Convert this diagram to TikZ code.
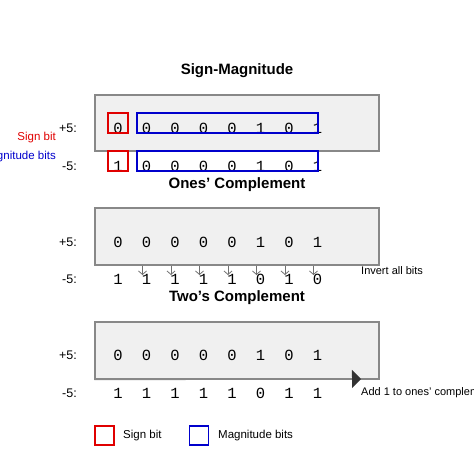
\documentclass[tikz,border=0pt]{standalone}
\usepackage{fontspec}
\setmainfont{Liberation Sans}
\setmonofont{Liberation Mono}
\usetikzlibrary{arrows.meta}
\definecolor{panelfill}{HTML}{F0F0F0}
\definecolor{paneldraw}{HTML}{888888}
\definecolor{signred}{HTML}{E00000}
\definecolor{magblue}{HTML}{0000CC}
\definecolor{tipdark}{HTML}{333333}
\definecolor{arrowgray}{HTML}{707070}

\begin{document}
\begin{tikzpicture}[x=1pt, y=-1pt,
    panel/.style={
      draw=paneldraw, fill=panelfill, line width=1.2pt,
      minimum width=284pt, minimum height=57pt, inner sep=0pt
    },
    heading/.style={inner sep=0pt, font=\fontsize{15}{18}\selectfont\bfseries},
    rowlabel/.style={anchor=east, inner sep=0pt, font=\fontsize{12.5}{14}\selectfont},
    bit/.style={inner sep=0pt, font=\ttfamily\fontsize{15.5}{18}\selectfont},
    note/.style={anchor=west, inner sep=0pt, font=\fontsize{11}{13}\selectfont},
    legtext/.style={anchor=west, inner sep=0pt, font=\fontsize{11.5}{13}\selectfont},
    signbox/.style={draw=signred, line width=1.5pt, minimum size=20pt, inner sep=0pt},
    magbox/.style={
      draw=magblue, line width=1.5pt,
      minimum width=181pt, minimum height=20pt, inner sep=0pt
    },
    invert/.style={draw=arrowgray, line width=0.8pt, -{Straight Barb[length=3.5pt,width=8pt]}},
  ]
  \useasboundingbox (0,0) rectangle (474,474);

  % Sign-Magnitude
  \node[heading] (smtitle) at (237,71) {Sign-Magnitude};
  \node[panel, minimum height=56pt] (smbox) at (237,123) {};
  \node[rowlabel] (smplus) at (77,128) {+5:};
  \node[rowlabel] (smminus) at (77,166) {-5:};
  \foreach \b [count=\i] in {0,0,0,0,0,1,0,1}
    \node[bit] (smp\i) at ({118+28.5*(\i-1)},128) {\b};
  \foreach \b [count=\i] in {1,0,0,0,0,1,0,1}
    \node[bit] (smn\i) at ({118+28.5*(\i-1)},166) {\b};
  \node[signbox] (smpsign) at (118,123) {};
  \node[magbox] (smpmag) at (227.5,123) {};
  \node[signbox] (smnsign) at (118,161) {};
  \node[magbox] (smnmag) at (227.5,161) {};
  \node[anchor=east, inner sep=0pt, text=signred, font=\fontsize{11.5}{13}\selectfont]
    (smsignlab) at (56,138) {Sign bit};
  \node[anchor=east, inner sep=0pt, text=magblue, font=\fontsize{11.5}{13}\selectfont]
    (smmaglab) at (56,157) {Magnitude bits};

  % Ones' Complement
  \node[heading] (octitle) at (237,185) {Ones' Complement};
  \node[panel] (ocbox) at (237,236.5) {};
  \node[rowlabel] (ocplus) at (77,242) {+5:};
  \node[rowlabel] (ocminus) at (77,279) {-5:};
  \foreach \b [count=\i] in {0,0,0,0,0,1,0,1}
    \node[bit] (ocp\i) at ({118+28.5*(\i-1)},242) {\b};
  \foreach \b [count=\i] in {1,1,1,1,1,0,1,0}
    \node[bit] (ocn\i) at ({118+28.5*(\i-1)},279) {\b};
  \foreach \i in {2,...,8} {
    \coordinate (ocarr\i) at ({114+28.5*(\i-1)},275);
    \draw[invert] (ocarr\i |- ocbox.south) -- (ocarr\i);
  }
  \node[note] (ocnote) at (361,271) {Invert all bits};

  % Two's Complement
  \node[heading] (tctitle) at (237,298) {Two's Complement};
  \node[panel] (tcbox) at (237,350.5) {};
  \node[rowlabel] (tcplus) at (77,355) {+5:};
  \node[rowlabel] (tcminus) at (77,393) {-5:};
  \foreach \b [count=\i] in {0,0,0,0,0,1,0,1}
    \node[bit] (tcp\i) at ({118+28.5*(\i-1)},355) {\b};
  \foreach \b [count=\i] in {1,1,1,1,1,0,1,1}
    \node[bit] (tcn\i) at ({118+28.5*(\i-1)},393) {\b};
  \coordinate (tcaddtip) at (361,379);
  \draw[draw=paneldraw, line width=1.2pt,
    -{Triangle[length=9pt,width=18pt,color=tipdark]}] (tcbox.south west) -- (tcaddtip);
  \node[note] (tcnote) at (361,393) {Add 1 to ones' complement};

  % legend
  \node[signbox, minimum size=19pt] (legsign) at (104.5,435.5) {};
  \node[legtext] (legsigntext) at (123,436) {Sign bit};
  \node[signbox, draw=magblue, minimum size=19pt] (legmag) at (199,435.5) {};
  \node[legtext] (legmagtext) at (218,436) {Magnitude bits};
\end{tikzpicture}
\end{document}
